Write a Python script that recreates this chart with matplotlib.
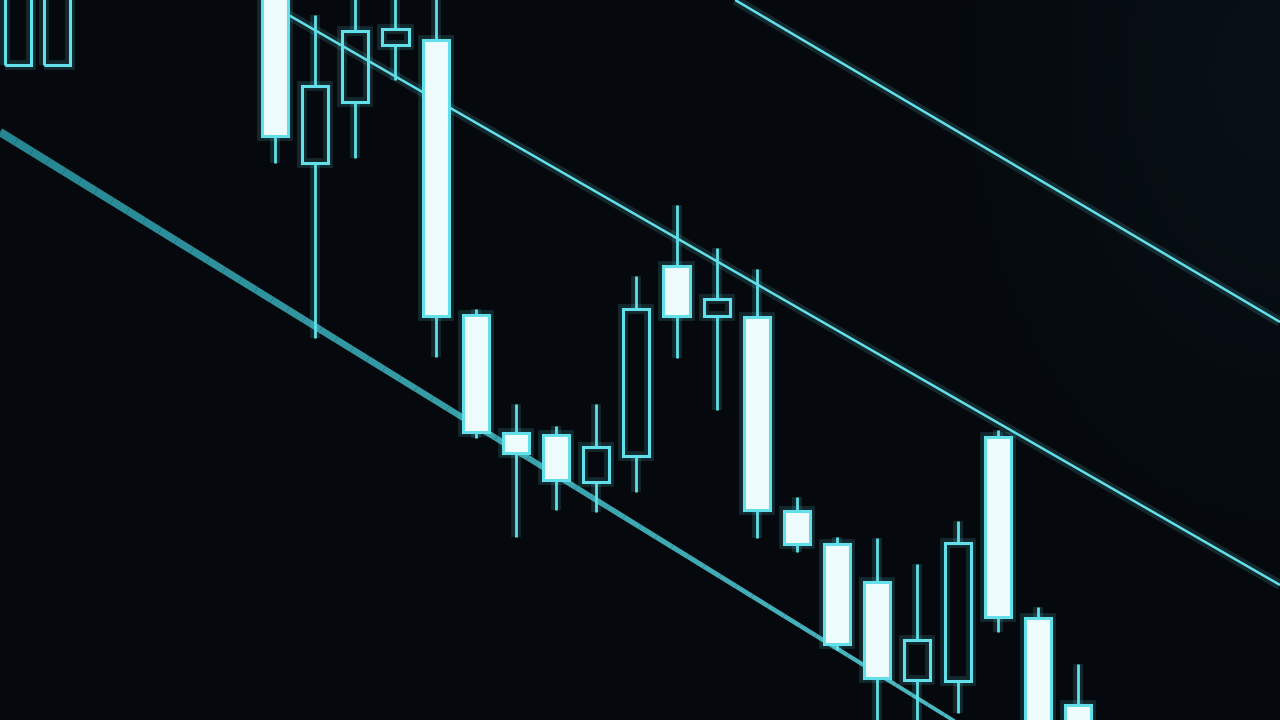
import numpy as np
import matplotlib.pyplot as plt
import matplotlib.patheffects as pe
from matplotlib.collections import LineCollection

# --- data (candle index / price) ---
t = [-6.40, -5.43, 0, 1, 2, 3, 4, 5, 6, 7, 8, 9, 10, 11, 12, 13, 14, 15, 16, 17, 18, 19, 20]
opens = [93.5, 93.5, 102.0, 83.7, 89.8, 95.5, 96.0, 68.5, 56.7, 56.5, 51.8, 54.4, 73.4, 68.4,
         68.3, 48.9, 45.6, 41.8, 32.0, 31.9, 56.3, 38.2, 29.5]
highs = [104.0, 104.0, 104.0, 98.5, 101.0, 101.0, 101.0, 69.1, 59.6, 57.4, 59.6, 72.4, 79.5, 75.2,
         73.1, 50.3, 46.3, 46.2, 43.6, 47.9, 57.0, 39.3, 33.6]
lows = [93.5, 93.5, 83.7, 66.2, 84.2, 92.0, 64.3, 56.2, 46.3, 49.0, 48.8, 50.8, 64.2, 59.0,
        46.2, 44.8, 35.0, 26.0, 26.0, 28.7, 36.8, 24.0, 24.0]
closes = [102.0, 102.0, 86.4, 91.4, 96.9, 97.1, 68.4, 56.8, 54.7, 52.0, 55.3, 69.1, 68.4, 70.1,
          49.0, 45.6, 35.6, 32.2, 36.0, 45.7, 38.3, 26.0, 26.0]

# trend channel lines: (t0, p0) -> (t1, p1)
channel_upper = [(11.46, 100.0), (25.03, 67.8)]
channel_mid = [(0.25, 98.7), (25.03, 41.5)]
channel_low = [(-6.85, 86.8), (25.03, 7.8)]

# --- style ---
BG = "#05090d"
CYAN = "#62dfe8"
FILL = "#effcfd"
W = 0.65

fig = plt.figure(figsize=(12.8, 7.2), dpi=100)
fig.patch.set_facecolor(BG)
ax = fig.add_axes([0, 0, 1, 1])
ax.set_facecolor(BG)
ax.set_xlim(-6.85, 25.03)
ax.set_ylim(28, 100)
ax.axis("off")

# faint glow in the upper right corner
gx, gy = np.meshgrid(np.linspace(0, 1, 256), np.linspace(0, 1, 144))
glow = np.exp(-((gx - 1.0) ** 2 / 0.03 + (gy - 0.1) ** 2 / 0.2))
img = np.zeros((144, 256, 4))
img[..., 0] = 0.08
img[..., 1] = 0.17
img[..., 2] = 0.21
img[..., 3] = glow * 0.22
ax.imshow(img, extent=[0, 1, 0, 1], transform=ax.transAxes, aspect="auto", zorder=0)

glow_fx = [pe.Stroke(linewidth=7, foreground=CYAN, alpha=0.15), pe.Normal()]

# channel lines
for (t0, p0), (t1, p1) in [channel_upper, channel_mid]:
    ax.plot([t0, t1], [p0, p1], color=CYAN, lw=1.8, zorder=2, path_effects=glow_fx,
            solid_capstyle="butt")

# lower line: thick and dim on the left, thinner to the right
(t0, p0), (t1, p1) = channel_low
n = 80
xs = np.linspace(t0, t1, n + 1)
ys = np.linspace(p0, p1, n + 1)
segs = [[(xs[i], ys[i]), (xs[i + 1], ys[i + 1])] for i in range(n)]
lw = np.linspace(6.0, 1.6, n)
cols = [(0.16 + 0.22 * f, 0.58 + 0.30 * f, 0.63 + 0.28 * f, 0.9) for f in np.linspace(0, 1, n)]
ax.add_collection(LineCollection(segs, linewidths=lw, colors=cols, zorder=2,
                                 capstyle="butt"))

# candles
for x, o, h, l, c in zip(t, opens, highs, lows, closes):
    top, bot = max(o, c), min(o, c)
    ax.plot([x, x], [top, h], color=CYAN, lw=2.0, zorder=3, path_effects=glow_fx,
            solid_capstyle="butt")
    ax.plot([x, x], [l, bot], color=CYAN, lw=2.0, zorder=3, path_effects=glow_fx,
            solid_capstyle="butt")
    filled = c < o
    ax.bar(x, top - bot, bottom=bot, width=W,
           facecolor=FILL if filled else "none", edgecolor=CYAN, linewidth=2.2,
           zorder=4, path_effects=glow_fx)

fig.savefig("out.png", dpi=100, facecolor=BG)
